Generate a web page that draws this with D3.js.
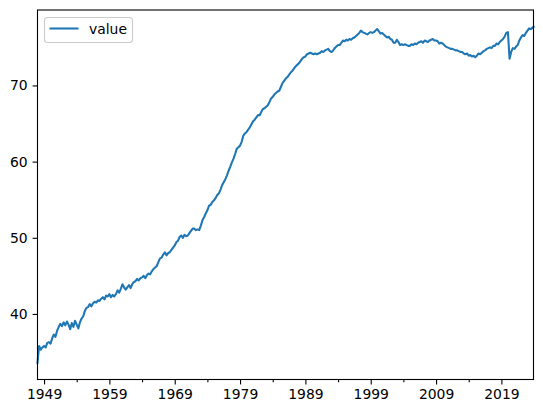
<!DOCTYPE html>
<html>
<head>
<meta charset="utf-8">
<script src="https://cdn.jsdelivr.net/npm/d3@7.9.0/dist/d3.min.js"></script>
<style>
  html, body { margin: 0; padding: 0; background: #fff; }
  svg { display: block; font-family: "DejaVu Sans", sans-serif; }
</style>
</head>
<body>
<svg id="chart" width="543" height="413"></svg>
<script>
// quarterly readings (Q1..Q4) per year, 1948-2023
const years = d3.range(1948, 2024);
const quarterValues = [
  [33.6, 35.8, 35.3, 35.6], // 1948
  [35.8, 35.6, 36.2, 36.3],
  [36.1, 36.8, 37.3, 37.0],
  [37.8, 38.3, 38.7, 38.4],
  [38.9, 38.5, 39.0, 38.6],
  [38.0, 38.8, 38.3, 39.1],
  [38.6, 38.1, 38.9, 39.4],
  [39.7, 40.4, 40.8, 40.9],
  [41.3, 41.0, 41.4, 41.6],
  [41.5, 41.8, 41.7, 42.0],
  [42.2, 41.9, 42.4, 42.3], // 1958
  [42.6, 42.2, 42.5, 42.3],
  [42.6, 43.1, 42.8, 43.3],
  [43.9, 43.5, 43.2, 43.5],
  [43.8, 43.4, 43.9, 44.2],
  [44.3, 44.6, 44.4, 44.7],
  [44.8, 45.0, 44.7, 45.1],
  [45.3, 45.2, 45.6, 45.9],
  [46.1, 46.3, 46.8, 47.3],
  [47.4, 47.8, 48.1, 47.7],
  [48.0, 48.1, 48.4, 48.7], // 1968
  [49.0, 49.4, 49.6, 50.1],
  [50.3, 50.0, 50.4, 50.2],
  [50.3, 50.6, 50.9, 51.2],
  [51.2, 51.0, 51.1, 51.0],
  [51.6, 52.3, 52.7, 53.2],
  [53.6, 54.2, 54.3, 54.7],
  [54.9, 55.2, 55.6, 55.8],
  [56.3, 56.9, 57.3, 57.7],
  [58.2, 58.8, 59.3, 59.9],
  [60.4, 61.0, 61.7, 61.9], // 1978
  [62.1, 62.6, 63.4, 63.7],
  [63.9, 64.2, 64.5, 64.9],
  [65.3, 65.5, 65.8, 66.1],
  [66.1, 66.5, 66.9, 67.0],
  [67.2, 67.4, 67.8, 68.3],
  [68.5, 68.8, 69.0, 69.2],
  [69.3, 69.8, 70.3, 70.6],
  [70.9, 71.1, 71.4, 71.7],
  [71.9, 72.2, 72.5, 72.7],
  [72.9, 73.2, 73.5, 73.7], // 1988
  [73.8, 74.1, 74.2, 74.3],
  [74.2, 74.1, 74.2, 74.1],
  [74.2, 74.3, 74.5, 74.4],
  [74.6, 74.7, 74.8, 74.5],
  [74.4, 74.6, 74.9, 75.1],
  [75.3, 75.3, 75.6, 75.9],
  [75.8, 76.0, 75.9, 76.1],
  [76.0, 76.2, 76.3, 76.5],
  [76.7, 76.9, 77.2, 77.0],
  [76.9, 76.8, 76.7, 76.9], // 1998
  [77.0, 76.9, 77.0, 77.2],
  [77.4, 77.1, 76.8, 76.9],
  [76.7, 76.5, 76.3, 76.4],
  [76.1, 76.0, 75.6, 75.6],
  [76.0, 75.7, 75.3, 75.4],
  [75.3, 75.4, 75.3, 75.2],
  [75.2, 75.4, 75.3, 75.5],
  [75.4, 75.6, 75.7, 75.8],
  [75.6, 75.9, 75.8, 75.7],
  [75.9, 76.0, 76.1, 75.9], // 2008
  [75.9, 75.8, 75.5, 75.6],
  [75.5, 75.3, 75.1, 75.0],
  [74.9, 74.8, 74.8, 74.7],
  [74.6, 74.6, 74.5, 74.4],
  [74.4, 74.2, 74.1, 74.2],
  [73.9, 74.0, 73.8, 73.9],
  [73.7, 73.9, 74.2, 74.1],
  [74.3, 74.5, 74.6, 74.8],
  [74.9, 75.0, 74.9, 75.2],
  [75.2, 75.5, 75.4, 75.7], // 2018
  [75.9, 76.1, 76.4, 76.9],
  [77.0, 73.5, 74.4, 74.9],
  [74.8, 75.1, 75.3, 75.9],
  [76.3, 76.6, 76.5, 76.9],
  [77.2, 77.5, 77.4, 77.7]  // 2023
];
const majorYears = [1949, 1959, 1969, 1979, 1989, 1999, 2009, 2019];
const minorYears = [1954, 1964, 1974, 1984, 1994, 2004, 2014];
const yTicks = [40, 50, 60, 70];

const data = [];
years.forEach((yr, i) => {
  quarterValues[i].forEach((v, q) => {
    data.push({ date: new Date(yr, q * 3, 1), value: v });
  });
});
// last observation, late 2023
data[data.length - 1].date = new Date(2023, 11, 1);

const W = 543, H = 413;
const margin = { left: 37.5, top: 10, right: W - 533.5, bottom: H - 379.5 };
const svg = d3.select("#chart");
const g = svg.append("g").attr("transform", `translate(${margin.left},${margin.top})`);
const iw = W - margin.left - margin.right;
const ih = H - margin.top - margin.bottom;

const x = d3.scaleTime()
  .domain(d3.extent(data, d => d.date))
  .range([0, iw]);

const ext = d3.extent(data, d => d.value);
const pad = (ext[1] - ext[0]) * 0.05;
const y = d3.scaleLinear()
  .domain([ext[0] - pad, ext[1] + pad])
  .range([ih, 0]);

// line
const line = d3.line().x(d => x(d.date)).y(d => y(d.value));
g.append("path")
  .datum(data)
  .attr("d", line)
  .attr("fill", "none")
  .attr("stroke", "#1f77b4")
  .attr("stroke-width", 2.08)
  .attr("stroke-linejoin", "round")
  .attr("stroke-linecap", "square");

// axes
const xAxis = d3.axisBottom(x)
  .tickValues(majorYears.map(yr => new Date(yr, 0, 1)))
  .tickFormat(d3.timeFormat("%Y"))
  .tickSize(4.9).tickPadding(4.9);
const xMinor = d3.axisBottom(x)
  .tickValues(minorYears.map(yr => new Date(yr, 0, 1)))
  .tickFormat("")
  .tickSize(2.8);
const yAxis = d3.axisLeft(y)
  .tickValues(yTicks)
  .tickSize(4.9).tickPadding(4.9);

const gx = g.append("g").attr("transform", `translate(0,${ih})`).call(xAxis);
g.append("g").attr("transform", `translate(0,${ih})`).call(xMinor).select(".domain").remove();
const gy = g.append("g").call(yAxis);

[gx, gy].forEach(a => {
  a.select(".domain").remove();
  a.selectAll("text").attr("font-size", 13.9).attr("fill", "#000")
    .attr("font-family", "DejaVu Sans, sans-serif");
});
g.selectAll(".tick line").attr("stroke", "#000").attr("stroke-width", 1.1);

// frame
g.append("rect")
  .attr("width", iw).attr("height", ih)
  .attr("fill", "none").attr("stroke", "#000").attr("stroke-width", 1.1);

// legend
const lg = svg.append("g").attr("transform", "translate(44.5,17.5)");
lg.append("rect")
  .attr("width", 88).attr("height", 25).attr("rx", 3)
  .attr("fill", "#fff").attr("fill-opacity", 0.8)
  .attr("stroke", "#cccccc").attr("stroke-width", 1.1);
lg.append("line")
  .attr("x1", 5).attr("x2", 34).attr("y1", 11).attr("y2", 11)
  .attr("stroke", "#1f77b4").attr("stroke-width", 2.08);
lg.append("text")
  .attr("x", 44.5).attr("y", 16.3)
  .attr("font-size", 13.9).attr("fill", "#000")
  .text("value");
</script>
</body>
</html>
